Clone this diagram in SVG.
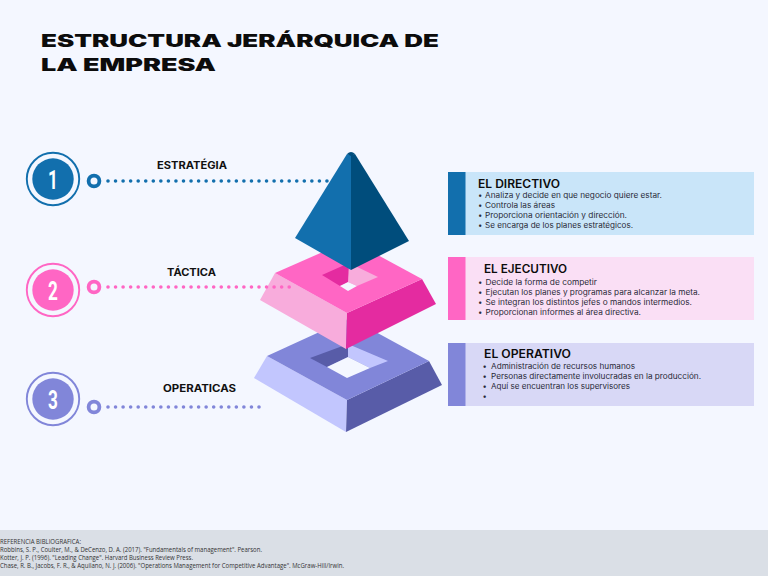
<svg xmlns="http://www.w3.org/2000/svg" width="768" height="576" viewBox="0 0 768 576">
<style>
.title{font:900 17px Inter,"Liberation Sans",sans-serif;fill:#0c0c0c}
.lab{font:700 10.2px Inter,"Liberation Sans",sans-serif;fill:#111}
.head{font:600 11.2px Inter,"Liberation Sans",sans-serif;fill:#0c0c0c}
.item{font:400 7.7px Inter,"Liberation Sans",sans-serif;fill:#2a2a38}
.ref{font:400 6.2px "Open Sans","Liberation Sans",sans-serif;fill:#333}
.num{font:700 26px Roboto,"Liberation Sans",sans-serif;fill:#fff;text-anchor:middle}
.ln{fill:none;stroke-width:3.6;stroke-linecap:round;stroke-dasharray:0 7.55}
.ring{fill:none;stroke-width:1.9}
.sm{fill:#f4f7ff;stroke-width:3.8}
</style>
<rect width="768" height="576" fill="#f4f7ff"/>
<rect y="530" width="768" height="46" fill="#dadfe6"/>
<g id="title">
<text class="title" x="41" y="47" textLength="398" lengthAdjust="spacingAndGlyphs">ESTRUCTURA JERÁRQUICA DE</text>
<text class="title" x="41" y="71" textLength="175" lengthAdjust="spacingAndGlyphs">LA EMPRESA</text>
</g>
<g id="tier-operativo">
<polygon points="267,356 347,400 346,432 254,378" fill="#c2c6fe"/>
<polygon points="347,400 429,361 442,385 346,432" fill="#585ca8"/>
<polygon points="267,356 350,318 429,361 347,400" fill="#8186d9"/>
<polygon points="310,358 348,344 348,357 327,367" fill="#585ca8"/>
<polygon points="348,344 388,361 370,368 348,357" fill="#c2c6fe"/>
<polygon points="327,367 348,357 370,368 347,378" fill="#f4f7ff"/>
</g>
<g id="tier-ejecutivo">
<polygon points="275,273 347,313 346,349 260,300" fill="#f8acdc"/>
<polygon points="347,313 422,279 436,304 346,349" fill="#e42ba0"/>
<polygon points="275,273 350,240 422,279 347,313" fill="#ff66c4"/>
<polygon points="322,275 349,263 349,282 340,286" fill="#e42ba0"/>
<polygon points="349,263 378,277 357,286 348,282" fill="#f8acdc"/>
<polygon points="340,286 348,282 357,286 348,291" fill="#f4f7ff"/>
</g>
<g id="connectors">
<line class="ln" x1="108" y1="181" x2="330" y2="181" stroke="#126fad"/>
<line class="ln" x1="108" y1="287" x2="291" y2="287" stroke="#ff66c4"/>
<line class="ln" x1="108" y1="407" x2="260" y2="407" stroke="#8186d9"/>
</g>
<g id="tier-directivo">
<polygon points="347,154 351,155 351,270 295,238" fill="#126fad"/>
<polygon points="351,155 355,154 409,241 351,270" fill="#004d7c"/>
<path d="M347,154Q351,150 355,154L351,156Z" fill="#004d7c"/>
</g>
<g id="step-1">
<circle class="ring" cx="53" cy="179" r="26.2" stroke="#126fad"/>
<circle cx="53" cy="179" r="20.7" fill="#126fad"/>
<text class="num" transform="translate(53 189) scale(.66 1)">1</text>
<circle class="sm" cx="94" cy="181" r="5.4" stroke="#126fad"/>
<text class="lab" x="157" y="169" textLength="70" lengthAdjust="spacingAndGlyphs">ESTRATÉGIA</text>
</g>
<g id="step-2">
<circle class="ring" cx="53" cy="290" r="26.2" stroke="#ff66c4"/>
<circle cx="53" cy="290" r="20.7" fill="#ff66c4"/>
<text class="num" transform="translate(53 300) scale(.66 1)">2</text>
<circle class="sm" cx="94" cy="287" r="5.4" stroke="#ff66c4"/>
<text class="lab" x="167" y="276" textLength="49" lengthAdjust="spacingAndGlyphs">TÁCTICA</text>
</g>
<g id="step-3">
<circle class="ring" cx="53" cy="399" r="26.2" stroke="#8186d9"/>
<circle cx="53" cy="399" r="20.7" fill="#8186d9"/>
<text class="num" transform="translate(53 409) scale(.66 1)">3</text>
<circle class="sm" cx="94" cy="407" r="5.4" stroke="#8186d9"/>
<text class="lab" x="163" y="392" textLength="73" lengthAdjust="spacingAndGlyphs">OPERATICAS</text>
</g>
<g id="box-directivo">
<rect x="448" y="172" width="306" height="63" fill="#c9e5f9"/>
<rect x="448" y="172" width="17.5" height="63" fill="#126fad"/>
<text class="head" x="478" y="188" textLength="82" lengthAdjust="spacingAndGlyphs">EL DIRECTIVO</text>
<text class="item" x="478" y="198">•</text><text class="item" x="485" y="198" textLength="177" lengthAdjust="spacingAndGlyphs">Analiza y decide en que negocio quiere estar.</text>
<text class="item" x="478" y="208">•</text><text class="item" x="485" y="208" textLength="70" lengthAdjust="spacingAndGlyphs">Controla las áreas</text>
<text class="item" x="478" y="218">•</text><text class="item" x="485" y="218" textLength="142" lengthAdjust="spacingAndGlyphs">Proporciona orientación y dirección.</text>
<text class="item" x="478" y="228">•</text><text class="item" x="485" y="228" textLength="148" lengthAdjust="spacingAndGlyphs">Se encarga de los planes estratégicos.</text>
</g>
<g id="box-ejecutivo">
<rect x="448" y="257" width="306" height="63" fill="#fadff5"/>
<rect x="448" y="257" width="17.5" height="63" fill="#ff66c4"/>
<text class="head" x="484" y="273" textLength="83" lengthAdjust="spacingAndGlyphs">EL EJECUTIVO</text>
<text class="item" x="478" y="285">•</text><text class="item" x="485.5" y="285" textLength="111.5" lengthAdjust="spacingAndGlyphs">Decide la forma de competir</text>
<text class="item" x="478" y="295">•</text><text class="item" x="485.5" y="295" textLength="214.5" lengthAdjust="spacingAndGlyphs">Ejecutan los planes y programas para alcanzar la meta.</text>
<text class="item" x="478" y="305">•</text><text class="item" x="485.5" y="305" textLength="206.5" lengthAdjust="spacingAndGlyphs">Se integran los distintos jefes o mandos intermedios.</text>
<text class="item" x="478" y="315">•</text><text class="item" x="485.5" y="315" textLength="155.5" lengthAdjust="spacingAndGlyphs">Proporcionan informes al área directiva.</text>
</g>
<g id="box-operativo">
<rect x="448" y="343" width="306" height="63" fill="#d8d8f6"/>
<rect x="448" y="343" width="17.5" height="63" fill="#8186d9"/>
<text class="head" x="484" y="358" textLength="87" lengthAdjust="spacingAndGlyphs">EL OPERATIVO</text>
<text class="item" x="482.5" y="369">•</text><text class="item" x="491" y="369" textLength="144" lengthAdjust="spacingAndGlyphs">Administración de recursos humanos</text>
<text class="item" x="482.5" y="379">•</text><text class="item" x="491" y="379" textLength="210" lengthAdjust="spacingAndGlyphs">Personas directamente involucradas en la producción.</text>
<text class="item" x="482.5" y="389">•</text><text class="item" x="491" y="389" textLength="139" lengthAdjust="spacingAndGlyphs">Aquí se encuentran los supervisores</text>
<text class="item" x="482.5" y="399">•</text>
</g>
<g id="references">
<text class="ref" x="0" y="543.5" textLength="81" lengthAdjust="spacingAndGlyphs">REFERENCIA BIBLIOGRAFICA:</text>
<text class="ref" x="0" y="551.5" textLength="262" lengthAdjust="spacingAndGlyphs">Robbins, S. P., Coulter, M., &amp; DeCenzo, D. A. (2017). "Fundamentals of management". Pearson.</text>
<text class="ref" x="0" y="559.5" textLength="193" lengthAdjust="spacingAndGlyphs">Kotter, J. P. (1996). "Leading Change". Harvard Business Review Press.</text>
<text class="ref" x="0" y="567.5" textLength="344" lengthAdjust="spacingAndGlyphs">Chase, R. B., Jacobs, F. R., &amp; Aquilano, N. J. (2006). "Operations Management for Competitive Advantage". McGraw-Hill/Irwin.</text>
</g>
</svg>
